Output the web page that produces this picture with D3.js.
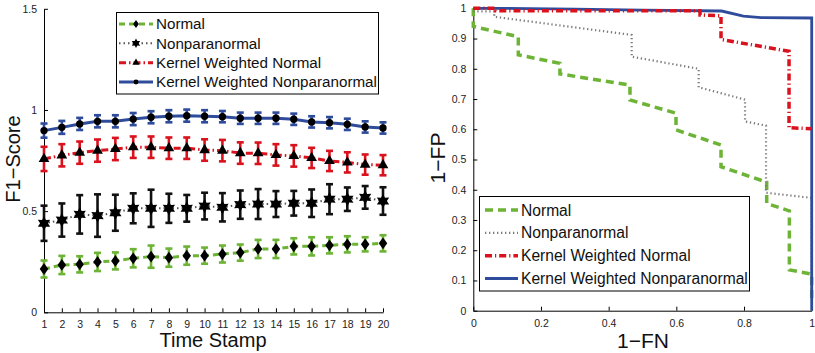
<!DOCTYPE html>
<html>
<head>
<meta charset="utf-8">
<script src="https://cdn.jsdelivr.net/npm/d3@7"></script>
<style>
  body { margin: 0; background: #fff; }
  svg { display: block; font-family: "Liberation Sans", Arial, sans-serif; }
</style>
</head>
<body>
<svg id="chart" width="815" height="353"></svg>
<script>
// ---- data: left panel (F1-score vs time stamp) ----
const timeStamps = [1, 2, 3, 4, 5, 6, 7, 8, 9, 10, 11, 12, 13, 14, 15, 16, 17, 18, 19, 20];
const normalMean = [0.214, 0.234, 0.237, 0.249, 0.254, 0.267, 0.275, 0.270, 0.280, 0.280, 0.288, 0.295, 0.313, 0.313, 0.326, 0.326, 0.331, 0.336, 0.336, 0.341];
const normalErr  = [0.042, 0.045, 0.040, 0.045, 0.042, 0.045, 0.055, 0.045, 0.045, 0.040, 0.042, 0.040, 0.045, 0.045, 0.040, 0.045, 0.040, 0.040, 0.035, 0.040];
const nonparaMean = [0.440, 0.456, 0.484, 0.478, 0.492, 0.514, 0.514, 0.514, 0.514, 0.525, 0.519, 0.532, 0.535, 0.535, 0.539, 0.539, 0.559, 0.559, 0.568, 0.550];
const nonparaErr  = [0.087, 0.082, 0.095, 0.105, 0.089, 0.074, 0.092, 0.072, 0.066, 0.066, 0.070, 0.070, 0.074, 0.064, 0.061, 0.068, 0.074, 0.058, 0.056, 0.068];
const kwNormalMean = [0.758, 0.776, 0.789, 0.799, 0.807, 0.816, 0.816, 0.811, 0.811, 0.802, 0.799, 0.787, 0.786, 0.778, 0.773, 0.763, 0.748, 0.741, 0.730, 0.727];
const kwNormalErr  = [0.060, 0.055, 0.055, 0.055, 0.055, 0.053, 0.053, 0.053, 0.053, 0.053, 0.053, 0.053, 0.053, 0.053, 0.053, 0.050, 0.050, 0.050, 0.050, 0.050];
const kwNonparaMean = [0.898, 0.914, 0.931, 0.944, 0.944, 0.955, 0.964, 0.969, 0.972, 0.969, 0.967, 0.959, 0.959, 0.959, 0.954, 0.941, 0.937, 0.929, 0.916, 0.911];
const kwNonparaErr  = [0.035, 0.032, 0.030, 0.030, 0.030, 0.030, 0.030, 0.030, 0.030, 0.030, 0.028, 0.028, 0.028, 0.028, 0.028, 0.028, 0.028, 0.028, 0.028, 0.028];
const leftYTicks = [0, 0.5, 1, 1.5];

// ---- data: right panel (1-FP vs 1-FN) ----
const normalRocX = [0, 0, 0.133, 0.133, 0.256, 0.256, 0.463, 0.463, 0.599, 0.599, 0.732, 0.732, 0.867, 0.867, 0.934, 0.934, 1, 1];
const normalRocY = [1, 0.94, 0.906, 0.846, 0.818, 0.783, 0.746, 0.697, 0.653, 0.598, 0.548, 0.476, 0.425, 0.355, 0.33, 0.135, 0.121, 0.04];
const nonparaRocX = [0, 0.062, 0.062, 0.468, 0.468, 0.666, 0.666, 0.803, 0.803, 0.865, 0.865, 1, 1];
const nonparaRocY = [0.99, 0.99, 0.972, 0.912, 0.84, 0.80, 0.739, 0.698, 0.626, 0.612, 0.39, 0.373, 0.05];
const kwNormalRocX = [0, 0.066, 0.066, 0.67, 0.67, 0.732, 0.732, 0.933, 0.933, 1];
const kwNormalRocY = [1, 1, 0.992, 0.992, 0.978, 0.975, 0.897, 0.858, 0.605, 0.602];
const kwNonparaRocX = [0, 0.066, 0.3, 0.5, 0.734, 0.798, 0.85, 1, 1];
const kwNonparaRocY = [1, 1, 0.997, 0.994, 0.991, 0.974, 0.969, 0.968, 0];
const rightXTicks = [0, 0.2, 0.4, 0.6, 0.8, 1];
const rightYTicks = [0, 0.1, 0.2, 0.3, 0.4, 0.5, 0.6, 0.7, 0.8, 0.9, 1];

const legendNames = ["Normal", "Nonparanormal", "Kernel Weighted Normal", "Kernel Weighted Nonparanormal"];

const GREEN = "#6cb336", RED = "#d9121d", BLUE = "#2f4c9c", GRAY = "#7a7a7a";

const svg = d3.select("#chart");

// six-pointed star (MATLAB hexagram)
const hexagram = {
    draw(ctx, size) {
        const r = Math.sqrt(size) * 0.75, ri = r * 0.55;
        for (let i = 0; i < 12; i++) {
            const a = -Math.PI / 2 + i * Math.PI / 6, rr = i % 2 ? ri : r;
            if (i == 0) ctx.moveTo(rr * Math.cos(a), rr * Math.sin(a));
            else ctx.lineTo(rr * Math.cos(a), rr * Math.sin(a));
        }
        ctx.closePath();
    }
};
const diamond = {
    draw(ctx, size) {
        const w = Math.sqrt(size) * 0.45, h = Math.sqrt(size) * 0.62;
        ctx.moveTo(0, -h); ctx.lineTo(w, 0); ctx.lineTo(0, h); ctx.lineTo(-w, 0); ctx.closePath();
    }
};

// ================= LEFT PANEL =================
const xL = d3.scaleLinear().domain([1, 20]).range([44, 383]);
const yL = d3.scaleLinear().domain([0, 1.5]).range([312.3, 8.8]);

const left = svg.append("g");

left.append("g").attr("transform", "translate(0,312.3)")
    .call(d3.axisBottom(xL).tickValues(timeStamps).tickSizeInner(-4).tickSizeOuter(0).tickPadding(8).tickFormat(d3.format("d")))
    .call(g => g.select(".domain").attr("stroke", "#000"))
    .call(g => g.selectAll("text").attr("font-size", 10.5).attr("fill", "#222").attr("font-family", "Liberation Sans, Arial"));

left.append("g").attr("transform", "translate(44,0)")
    .call(d3.axisLeft(yL).tickValues(leftYTicks).tickSizeInner(-4).tickSizeOuter(0).tickPadding(7).tickFormat(d => d))
    .call(g => g.select(".domain").attr("stroke", "#000"))
    .call(g => g.selectAll("text").attr("font-size", 10.5).attr("fill", "#222").attr("font-family", "Liberation Sans, Arial"));

left.append("text").attr("x", 213).attr("y", 347).attr("text-anchor", "middle")
    .attr("font-size", 20).attr("fill", "#111").text("Time Stamp");
left.append("text").attr("transform", "translate(20,159) rotate(-90)").attr("text-anchor", "middle")
    .attr("font-size", 20).attr("fill", "#111").text("F1\u2212Score");

const leftSeries = [
    { mean: normalMean, err: normalErr, color: GREEN, barColor: GREEN, dash: "6,4", width: 3, sym: diamond, size: 90 },
    { mean: nonparaMean, err: nonparaErr, color: "#555", barColor: "#111", dash: "1.5,3", width: 2, sym: hexagram, size: 90 },
    { mean: kwNormalMean, err: kwNormalErr, color: RED, barColor: RED, dash: "7,3,1.5,3", width: 3, sym: d3.symbolTriangle, size: 50 },
    { mean: kwNonparaMean, err: kwNonparaErr, color: BLUE, barColor: BLUE, dash: null, width: 3, sym: d3.symbolCircle, size: 42 }
];

const lineL = d3.line().x((d, i) => xL(timeStamps[i])).y(d => yL(d));

leftSeries.forEach(s => {
    const g = left.append("g");
    const bars = g.selectAll(".eb").data(s.mean).enter().append("g");
    bars.append("line")
        .attr("x1", (d, i) => xL(timeStamps[i])).attr("x2", (d, i) => xL(timeStamps[i]))
        .attr("y1", (d, i) => yL(d - s.err[i])).attr("y2", (d, i) => yL(d + s.err[i]))
        .attr("stroke", s.barColor).attr("stroke-width", 2.6);
    [-1, 1].forEach(sg => {
        bars.append("line")
            .attr("x1", (d, i) => xL(timeStamps[i]) - 3.5).attr("x2", (d, i) => xL(timeStamps[i]) + 3.5)
            .attr("y1", (d, i) => yL(d + sg * s.err[i])).attr("y2", (d, i) => yL(d + sg * s.err[i]))
            .attr("stroke", s.barColor).attr("stroke-width", 2.6);
    });
    g.append("path").datum(s.mean).attr("d", lineL).attr("fill", "none")
        .attr("stroke", s.color).attr("stroke-width", s.width)
        .attr("stroke-dasharray", s.dash);
    g.selectAll(".mk").data(s.mean).enter().append("path")
        .attr("transform", (d, i) => `translate(${xL(timeStamps[i])},${yL(d)})`)
        .attr("d", d3.symbol().type(s.sym).size(s.size)).attr("fill", "#000");
});

// left legend
const legL = left.append("g");
legL.append("rect").attr("x", 116.5).attr("y", 12.5).attr("width", 262).attr("height", 81.5)
    .attr("fill", "#fff").attr("stroke", "#000").attr("stroke-width", 1);
const legLY = d3.scalePoint().domain(legendNames).range([24, 82]);
legendNames.forEach((name, k) => {
    const s = leftSeries[k], y = legLY(name);
    legL.append("line").attr("x1", 119).attr("x2", 153).attr("y1", y).attr("y2", y)
        .attr("stroke", s.color).attr("stroke-width", s.width).attr("stroke-dasharray", s.dash);
    legL.append("path").attr("transform", `translate(136,${y})`)
        .attr("d", d3.symbol().type(s.sym).size(s.size * 0.45)).attr("fill", "#000");
    legL.append("text").attr("x", 156).attr("y", y + 5.4).attr("font-size", 15.2).attr("fill", "#111").text(name);
});

// ================= RIGHT PANEL =================
const xR = d3.scaleLinear().domain([0, 1]).range([473.3, 811.7]);
const yR = d3.scaleLinear().domain([0, 1]).range([310.7, 8.3]);

const right = svg.append("g");

right.append("g").attr("transform", "translate(0,310.7)")
    .call(d3.axisBottom(xR).tickValues(rightXTicks).tickSizeInner(-4).tickSizeOuter(0).tickPadding(9).tickFormat(d => d))
    .call(g => g.select(".domain").attr("stroke", "#000"))
    .call(g => g.selectAll("text").attr("font-size", 10.5).attr("fill", "#222").attr("font-family", "Liberation Sans, Arial"));

right.append("g").attr("transform", "translate(473.3,0)")
    .call(d3.axisLeft(yR).tickValues(rightYTicks).tickSizeInner(-4).tickSizeOuter(0).tickPadding(7).tickFormat(d => d))
    .call(g => g.select(".domain").attr("stroke", "#000"))
    .call(g => g.selectAll("text").attr("font-size", 10.5).attr("fill", "#222").attr("font-family", "Liberation Sans, Arial"));

right.append("text").attr("x", 643).attr("y", 348).attr("text-anchor", "middle")
    .attr("font-size", 21).attr("fill", "#111").text("1\u2212FN");
right.append("text").attr("transform", "translate(444.5,158) rotate(-90)").attr("text-anchor", "middle")
    .attr("font-size", 21).attr("fill", "#111").text("1\u2212FP");

const rightSeries = [
    { xs: normalRocX, ys: normalRocY, color: GREEN, dash: "8,5", width: 3.5 },
    { xs: nonparaRocX, ys: nonparaRocY, color: GRAY, dash: "1.3,2.7", width: 2.2 },
    { xs: kwNonparaRocX, ys: kwNonparaRocY, color: BLUE, dash: null, width: 2.8 },
    { xs: kwNormalRocX, ys: kwNormalRocY, color: RED, dash: "7,3,1.2,3", width: 3.5 }
];
const rightLegendOrder = [0, 1, 3, 2];

const lineR = d3.line().x(d => xR(d[0])).y(d => yR(d[1]));
rightSeries.forEach(s => {
    right.append("path").datum(s.xs.map((x, i) => [x, s.ys[i]]))
        .attr("d", lineR).attr("fill", "none")
        .attr("stroke", s.color).attr("stroke-width", s.width)
        .attr("stroke-dasharray", s.dash);
});

// right legend
const legR = right.append("g");
legR.append("rect").attr("x", 479.5).attr("y", 196.5).attr("width", 270).attr("height", 94.5)
    .attr("fill", "#fff").attr("stroke", "#000").attr("stroke-width", 1);
const legRY = d3.scalePoint().domain(legendNames).range([210, 278.5]);
legendNames.forEach((name, k) => {
    const s = rightSeries[rightLegendOrder[k]], y = legRY(name);
    legR.append("line").attr("x1", 485).attr("x2", 518).attr("y1", y).attr("y2", y)
        .attr("stroke", s.color).attr("stroke-width", s.width).attr("stroke-dasharray", s.dash);
    legR.append("text").attr("x", 521).attr("y", y + 5.6).attr("font-size", 15.6).attr("fill", "#111").text(name);
});
</script>
</body>
</html>
